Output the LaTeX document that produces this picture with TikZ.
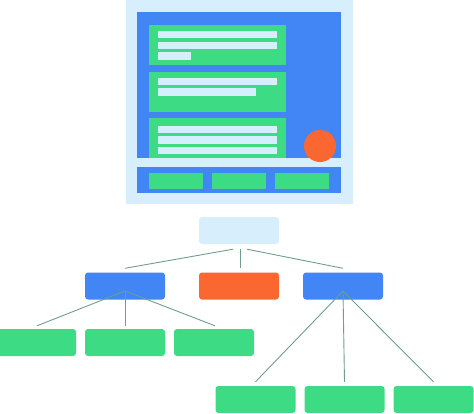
\documentclass[tikz,border=0pt]{standalone}
\begin{document}
\begin{tikzpicture}[x=1pt,y=-1pt,
  box/.style={draw=none,rounded corners=3pt,minimum width=80pt,minimum height=27pt,inner sep=0pt},
  wire/.style={draw=wirec,line width=0.9pt}]
\definecolor{lightbg}{HTML}{D7EEFC}
\definecolor{bluec}{HTML}{4285F4}
\definecolor{greenc}{HTML}{3DDC84}
\definecolor{orangec}{HTML}{FA6731}
\definecolor{wirec}{HTML}{6F9D8F}
\useasboundingbox (0,0) rectangle (474,413);
% phone mockup
\fill[lightbg] (126,0) rectangle (353,204);
\fill[bluec] (137,12) rectangle (341,158);
\fill[greenc] (149,25) rectangle (286,65);
\fill[greenc] (149,72) rectangle (286,112);
\fill[greenc] (149,118) rectangle (286,158);
\fill[lightbg] (158,31) rectangle (277,38);
\fill[lightbg] (158,42) rectangle (277,49);
\fill[lightbg] (158,52) rectangle (191,60);
\fill[lightbg] (158,78) rectangle (277,85);
\fill[lightbg] (158,88) rectangle (256,96);
\fill[lightbg] (158,126) rectangle (277,133);
\fill[lightbg] (158,136) rectangle (277,144);
\fill[lightbg] (158,147) rectangle (277,154);
\fill[bluec] (137,167) rectangle (341,193);
\fill[greenc] (149,173) rectangle (203,189);
\fill[greenc] (212,173) rectangle (266,189);
\fill[greenc] (275,173) rectangle (329,189);
\fill[orangec] (320,146) circle (16);
% tree
\node[box,fill=lightbg] (root) at (239,230.5) {};
\node[box,fill=bluec] (l) at (125,286) {};
\node[box,fill=orangec] (m) at (239,286) {};
\node[box,fill=bluec] (r) at (343,286) {};
\node[box,fill=greenc] (l1) at (36,342.5) {};
\node[box,fill=greenc] (l2) at (125,342.5) {};
\node[box,fill=greenc] (l3) at (214,342.5) {};
\node[box,fill=greenc] (r1) at (255.5,399.5) {};
\node[box,fill=greenc] (r2) at (344.5,399.5) {};
\node[box,fill=greenc] (r3) at (433.5,399.5) {};
\coordinate (lh) at ([yshift=-5pt]l.center);
\coordinate (rh) at ([yshift=-5pt]r.center);
\draw[wire] ([xshift=-6pt,yshift=-5pt]root.south) -- ([yshift=4pt]l.north);
\draw[wire] ([xshift=1pt,yshift=-5pt]root.south) -- ([xshift=1pt,yshift=4pt]m.north);
\draw[wire] ([xshift=8pt,yshift=-5pt]root.south) -- ([yshift=4pt]r.north);
\draw[wire] (lh) -- ([xshift=1pt,yshift=3pt]l1.north);
\draw[wire] (lh) -- ([yshift=3pt]l2.north);
\draw[wire] (lh) -- ([xshift=1pt,yshift=3pt]l3.north);
\draw[wire] (rh) -- ([yshift=4pt]r1.north);
\draw[wire] (rh) -- ([yshift=4pt]r2.north);
\draw[wire] (rh) -- ([yshift=4pt]r3.north);
\end{tikzpicture}
\end{document}
